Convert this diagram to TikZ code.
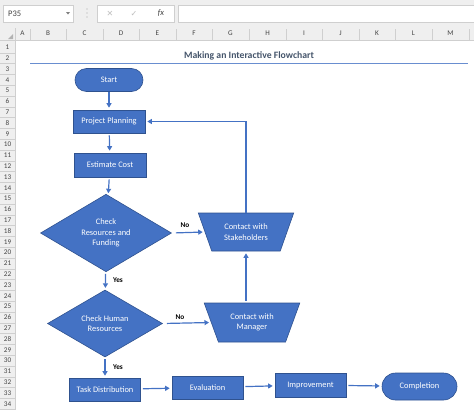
\documentclass[tikz,border=0pt]{standalone}
\usepackage{fontspec}
\setmainfont{Carlito}
\newfontfamily\symfont{DejaVu Sans}
\usetikzlibrary{positioning,arrows.meta,shapes.geometric}
\definecolor{xlblue}{HTML}{4472C4}
\definecolor{xledge}{HTML}{2F528F}
\definecolor{xlgray}{HTML}{EFEFEF}
\definecolor{xlline}{HTML}{CFCFCF}
\definecolor{xltext}{HTML}{444444}
\definecolor{ttlcol}{HTML}{44546A}

\begin{document}
\begin{tikzpicture}[x=1pt, y=-1pt,
  hdr/.style={font=\fontsize{7.2}{8}\selectfont, text=xltext, inner sep=0pt},
  lbl/.style={font=\fontsize{7.3}{8}\selectfont\bfseries, inner sep=1pt},
  ttl/.style={font=\fontsize{9.7}{11}\selectfont\bfseries, text=ttlcol, inner sep=1pt},
  box/.style={rectangle, draw=xledge, line width=0.6pt, fill=xlblue, text=white,
    font=\fontsize{8.4}{10.5}\selectfont, align=center, inner sep=1pt},
  term/.style={box, rounded corners=11.5pt},
  dia/.style={diamond, draw=xledge, line width=0.6pt, fill=xlblue, text=white,
    font=\fontsize{8.4}{10.5}\selectfont, align=center, inner sep=0pt},
  trap/.style={trapezium, shape border rotate=180, trapezium stretches=true,
    trapezium left angle=64, trapezium right angle=64, draw=xledge, line width=0.6pt,
    fill=xlblue, text=white, font=\fontsize{8.4}{10.5}\selectfont, align=center, inner sep=1pt},
  arr/.style={draw=xlblue, line width=1.2pt, -{Triangle[length=4.5pt,width=5pt]},
    shorten <=2pt, shorten >=2pt}
]
\useasboundingbox (0,0) rectangle (474,410);

% spreadsheet frame
\fill[xlgray] (0,0) rectangle (474,41);
\fill[xlgray] (0,41) rectangle (15,410);
\draw[xlline, fill=white] (3,5) rectangle (73,22);
\node[hdr, anchor=west, font=\fontsize{8.5}{9}\selectfont] (cell) at (8,13.5) {P35};
\fill[gray] (66,12) -- (70,12) -- (68,14.5) -- cycle;
\foreach \yy in {9,13,17} \fill[gray!70] (87,\yy) circle (0.6);
\draw[xlline, fill=white] (97,5) rectangle (174,22);
\draw[xlline, fill=white] (178,5) rectangle (474,22);
\node[hdr, text=gray!50, font=\symfont\fontsize{8}{9}\selectfont] (xmark) at (110,13.5) {✕};
\node[hdr, text=gray!50, font=\symfont\fontsize{8}{9}\selectfont] (ckmark) at (134,13.5) {✓};
\node[hdr, font=\fontsize{8.5}{9}\selectfont\itshape] (fx) at (161,13.5) {fx};
\fill[gray!60] (13,34) -- (13,39) -- (8,39) -- cycle;
\foreach \c/\xa/\xb in {A/15/30, B/30/66, C/66/103, D/103/139, E/139/176,
  F/176/212, G/212/249, H/249/286, I/286/322, J/322/359, K/359/395, L/395/432, M/432/469}
{
  \node[hdr] (col\c) at ({(\xa+\xb)/2},33.5) {\c};
  \draw[xlline] (\xb,29) -- (\xb,40);
}
\draw[xlline] (0,40.5) -- (474,40.5);
\draw[xlline] (15,28) -- (15,410);
\foreach \r in {1,...,34}
{
  \node[hdr] (row\r) at (7.5,{42+(\r-0.5)*10.8}) {\r};
  \draw[xlline] (0,{42+\r*10.8}) -- (15,{42+\r*10.8});
}

% title
\node[ttl] (title) at (249,56) {Making an Interactive Flowchart};
\draw[xlblue!80, line width=0.8pt] (30,63.5) -- (468,63.5);

% flowchart
\node[term, minimum width=68pt, minimum height=23pt] (start) at (109,80) {Start};
\node[box, minimum width=72pt, minimum height=23pt] (plan) at (109,121.5) {Project Planning};
\node[box, minimum width=72pt, minimum height=24pt] (cost) at (110,165) {Estimate Cost};
\node[dia, minimum width=131pt, minimum height=73pt] (fund) at (106,233) {Check\\Resources and\\Funding};
\node[dia, minimum width=115pt, minimum height=67pt] (human) at (105,323.5) {Check Human\\Resources};
\node[box, minimum width=71pt, minimum height=23pt] (task) at (105,389.5) {Task Distribution};
\node[box, minimum width=71pt, minimum height=23pt] (eval) at (207.5,387.5) {Evaluation};
\node[box, minimum width=71pt, minimum height=24pt] (impr) at (310.5,385) {Improvement};
\node[term, rounded corners=13.5pt, minimum width=75pt, minimum height=27pt] (done) at (419.5,386.5) {Completion};
\node[trap, minimum width=96pt, minimum height=38pt] (stake) at (246,232) {Contact with\\Stakeholders};
\node[trap, minimum width=96pt, minimum height=39pt] (mgr) at (252,322.5) {Contact with\\Manager};

\draw[arr, shorten <=0pt] (start) -- (plan);
\draw[arr] (plan) -- (cost);
\draw[arr] (cost) -- (fund);
\draw[arr] (fund) -- (human);
\draw[arr] (human) -- (task);
\draw[arr] (task) -- (eval);
\draw[arr] (eval) -- (impr);
\draw[arr] (impr) -- (done);
\draw[arr, shorten <=4pt] (fund.east) -- (stake.west);
\draw[arr, shorten <=4pt] (human.east) -- (mgr.west);
\draw[arr] (stake.south |- mgr.north) -- (stake.south);
\draw[arr, shorten <=0pt] (stake.north) |- (plan.east);

\node[lbl] (no1) at (185,225.5) {No};
\node[lbl] (no2) at (180,317) {No};
\node[lbl] (yes1) at (118,280) {Yes};
\node[lbl] (yes2) at (118,367) {Yes};

\end{tikzpicture}
\end{document}
